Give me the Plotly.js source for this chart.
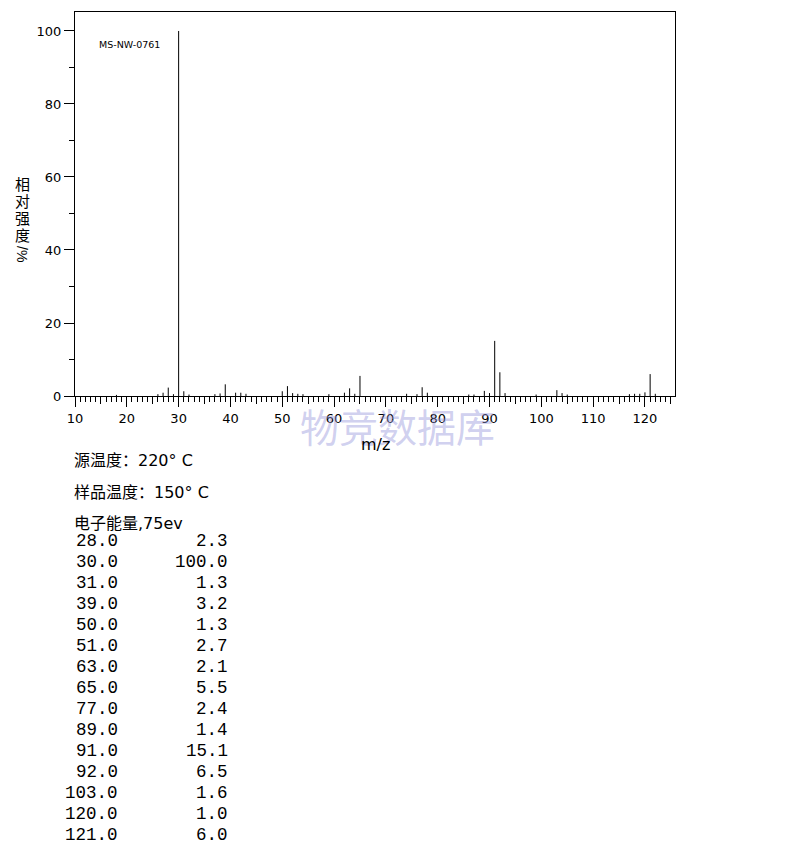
<!DOCTYPE html>
<html>
<head>
<meta charset="utf-8">
<script src="https://cdn.plot.ly/plotly-3.0.1.min.js"></script>
<style>body{margin:0;background:#fff}#chart{width:794px;height:850px}</style>
</head>
<body>
<div id="chart"></div>
<script>
// Listed peaks (from the table)
const peakMz = [28, 30, 31, 39, 50, 51, 63, 65, 77, 89, 91, 92, 103, 120, 121];
const peakInt = [2.3, 100.0, 1.3, 3.2, 1.3, 2.7, 2.1, 5.5, 2.4, 1.4, 15.1, 6.5, 1.6, 1.0, 6.0];
// Small unlisted peaks (estimates)
const minorMz = [18, 26, 27, 29, 32, 37, 38, 41, 42, 43, 52, 53, 54, 59, 62, 64, 74, 76, 78, 86, 87, 90, 93, 99, 104, 105, 117, 118, 119, 122];
const minorInt = [0.3, 0.5, 0.9, 0.5, 0.4, 0.5, 0.7, 0.9, 0.9, 0.6, 0.8, 0.6, 0.5, 0.5, 0.9, 0.6, 0.6, 0.5, 0.9, 0.4, 0.4, 0.8, 0.8, 0.4, 0.8, 0.4, 0.5, 0.6, 0.6, 0.6];
const headerLines = ["源温度：220° C", "样品温度：150° C", "电子能量,75ev"];
const sampleId = "MS-NW-0761";
const watermark = "物竞数据库";
const yTitleChars = ["相", "对", "强", "度"];
const yTitleUnit = "/%";
const xTitle = "m/z";

// plot-area geometry in pixels
const L = 75, R = 675, T = 12, B = 396;
const W = 794, H = 850;
const px = x => (x - L) / (R - L);
const py = y => (B - y) / (B - T);

const segX = [], segY = [];
const allMz = minorMz.concat(peakMz), allInt = minorInt.concat(peakInt);
for (let i = 0; i < allMz.length; i++) {
  segX.push(allMz[i], allMz[i], null);
  segY.push(0, allInt[i], null);
}

const traces = [
  {x: segX, y: segY, type: 'scatter', mode: 'lines', line: {color: '#000', width: 1}, hoverinfo: 'skip', showlegend: false},
  {x: [10], y: [0], xaxis: 'x2', type: 'scatter', mode: 'markers', marker: {opacity: 0}, hoverinfo: 'skip', showlegend: false}
];

const ann = [];
ann.push({xref: 'paper', yref: 'paper', x: px(97), y: py(44), xanchor: 'left', yanchor: 'middle', text: sampleId, showarrow: false, font: {family: 'DejaVu Sans', size: 9.5, color: '#000'}});
ann.push({xref: 'paper', yref: 'paper', x: px(397), y: py(425), xanchor: 'center', yanchor: 'middle', text: watermark, showarrow: false, font: {family: 'Noto Sans CJK SC', size: 39, color: 'rgba(150,150,220,0.45)'}});
yTitleChars.forEach((c, i) => {
  ann.push({xref: 'paper', yref: 'paper', x: px(22), y: py(183 + i * 17), xanchor: 'center', yanchor: 'middle', text: c, showarrow: false, font: {family: 'Noto Sans CJK SC', size: 15, color: '#000'}});
});
ann.push({xref: 'paper', yref: 'paper', x: px(22), y: py(254), xanchor: 'center', yanchor: 'middle', text: yTitleUnit, textangle: 90, showarrow: false, font: {family: 'Liberation Sans', size: 14, color: '#000'}});
ann.push({xref: 'paper', yref: 'paper', x: px(375), y: py(444), xanchor: 'center', yanchor: 'middle', text: xTitle, showarrow: false, font: {family: 'DejaVu Sans', size: 16, color: '#000'}});

const headerY = [460, 492, 523];
headerLines.forEach((t, i) => {
  ann.push({xref: 'paper', yref: 'paper', x: px(73), y: py(headerY[i]), xanchor: 'left', yanchor: 'middle', text: t, showarrow: false, borderpad: 0, font: {family: 'DejaVu Sans, Noto Sans CJK SC', size: 16, color: '#000'}});
});
peakMz.forEach((m, i) => {
  const yy = py(541 + i * 21);
  ann.push({xref: 'paper', yref: 'paper', x: px(119), y: yy, xanchor: 'right', yanchor: 'middle', text: m.toFixed(1), showarrow: false, borderpad: 0, font: {family: 'Liberation Mono', size: 17.5, color: '#000'}});
  ann.push({xref: 'paper', yref: 'paper', x: px(229), y: yy, xanchor: 'right', yanchor: 'middle', text: peakInt[i].toFixed(1), showarrow: false, borderpad: 0, font: {family: 'Liberation Mono', size: 17.5, color: '#000'}});
});

const layout = {
  width: W, height: H,
  margin: {l: L, r: W - R, t: T, b: H - B, pad: 0},
  paper_bgcolor: '#fff', plot_bgcolor: '#fff',
  font: {family: 'DejaVu Sans', size: 13, color: '#000'},
  showlegend: false,
  xaxis: {
    range: [10, 125.8], showgrid: false, zeroline: false,
    showline: true, linecolor: '#000', linewidth: 1, mirror: true,
    ticks: 'outside', tickmode: 'linear', tick0: 10, dtick: 10, ticklen: 10, tickwidth: 1, tickcolor: '#000',
    minor: {ticks: 'outside', tickmode: 'linear', tick0: 10, dtick: 1, ticklen: 5, tickwidth: 1, tickcolor: '#000', showgrid: false},
    tickfont: {family: 'DejaVu Sans', size: 13}
  },
  xaxis2: {
    overlaying: 'x', anchor: 'y', side: 'bottom', range: [10, 125.8],
    showgrid: false, zeroline: false, showline: false, showticklabels: false,
    ticks: 'outside', tickmode: 'linear', tick0: 15, dtick: 10, ticklen: 7, tickwidth: 1, tickcolor: '#000'
  },
  yaxis: {
    range: [0, 105.2], showgrid: false, zeroline: false,
    showline: true, linecolor: '#000', linewidth: 1, mirror: true,
    ticks: 'outside', tickmode: 'linear', tick0: 0, dtick: 20, ticklen: 10, tickwidth: 1, tickcolor: '#000',
    minor: {ticks: 'outside', tickmode: 'linear', tick0: 0, dtick: 10, ticklen: 5, tickwidth: 1, tickcolor: '#000', showgrid: false},
    tickfont: {family: 'DejaVu Sans', size: 13}
  },
  annotations: ann
};

Plotly.newPlot('chart', traces, layout, {staticPlot: true, displayModeBar: false});
</script>
</body>
</html>
